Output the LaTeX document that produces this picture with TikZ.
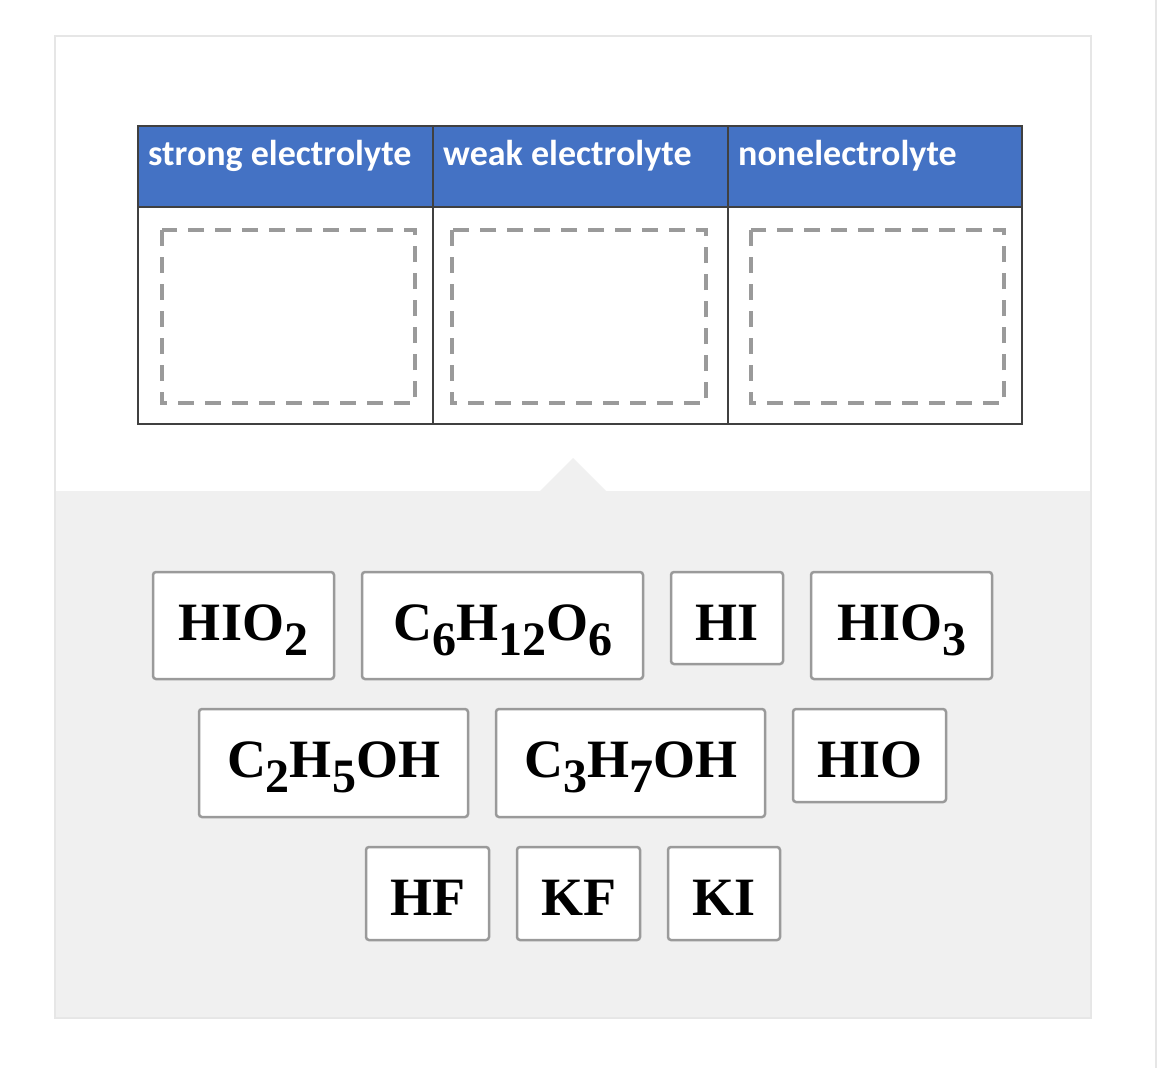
\documentclass[tikz,border=0pt]{standalone}
\usepackage{fontspec}
\setmainfont{Liberation Serif}
\newfontfamily\hdr{Carlito}
\definecolor{hblue}{HTML}{4472C4}
\definecolor{panel}{HTML}{F0F0F0}
\definecolor{pline}{HTML}{E6E6E6}
\definecolor{chipline}{HTML}{9A9A9A}
\begin{document}
\begin{tikzpicture}[x=1pt,y=-1pt,
  chip/.style={draw=chipline,line width=2.5pt,fill=white,rounded corners=3pt,inner sep=0pt},
  chiptxt/.style={anchor=base,inner sep=0pt,font=\fontsize{54}{54}\selectfont\bfseries},
  hdrtxt/.style={anchor=base west,inner sep=0pt,text=white,font=\hdr\bfseries\fontsize{36}{36}\selectfont},
  dropbox/.style={draw=chipline,line width=4pt,dash pattern=on 16pt off 11pt}]
\newcommand{\sbs}[1]{\raisebox{-0.28em}{\fontsize{48}{48}\selectfont #1}}
\useasboundingbox (0,0) rectangle (1158,1068);
\fill[white] (0,0) rectangle (1158,1068);
\draw[pline,line width=2pt] (1156,0) -- (1156,1068);
% panel
\draw[pline,line width=2pt,fill=white] (55,36) rectangle (1091,1018);
\fill[panel] (56,491) -- (540,491) -- (573,458) -- (606,491) -- (1090,491) -- (1090,1017) -- (56,1017) -- cycle;
% table
\fill[hblue] (138,126) rectangle (1022,207);
\draw[black!75,line width=1.5pt] (138,126) rectangle (1022,424);
\draw[black!75,line width=1.5pt] (138,207) -- (1022,207) (433,126) -- (433,424) (728,126) -- (728,424);
\node[hdrtxt] (h1) at (148,165) {strong electrolyte};
\node[hdrtxt] (h2) at (443,165) {weak electrolyte};
\node[hdrtxt] (h3) at (738,165) {nonelectrolyte};
\draw[dropbox] (162,230) rectangle (415,403);
\draw[dropbox] (452,230) rectangle (706,403);
\draw[dropbox] (751,230) rectangle (1004,403);
% chips
\newcommand{\chip}[6]{%
  \node[chip,minimum width={#3-#2},minimum height={#5-#4}] (#1) at ({(#2+#3)/2},{(#4+#5)/2}) {};
  \node[chiptxt] (#1t) at ({(#2+#3)/2},{#4+68}) {#6};}
\chip{a}{153}{334}{572}{679}{HIO\sbs{2}}
\chip{b}{362}{643}{572}{679}{C\sbs{6}H\sbs{12}O\sbs{6}}
\chip{c}{671}{783}{572}{664}{HI}
\chip{d}{811}{992}{572}{679}{HIO\sbs{3}}
\chip{e}{199}{468}{709}{817}{C\sbs{2}H\sbs{5}OH}
\chip{f}{496}{765}{709}{817}{C\sbs{3}H\sbs{7}OH}
\chip{g}{793}{946}{709}{802}{HIO}
\chip{h}{366}{489}{847}{940}{HF}
\chip{i}{517}{640}{847}{940}{KF}
\chip{j}{668}{780}{847}{940}{KI}
\end{tikzpicture}
\end{document}
